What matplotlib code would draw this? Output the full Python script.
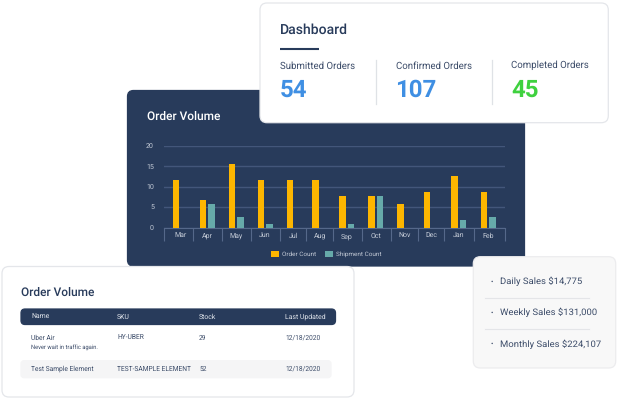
"""Order dashboard mock-up: overlapping cards around a monthly bar chart."""
import matplotlib
matplotlib.use("Agg")
import matplotlib.pyplot as plt
from matplotlib.patches import FancyBboxPatch
import numpy as np

W, H = 617, 400
NAVY = "#283b5b"
TEXT = "#3c4c69"

MONTHS = ["Mar", "Apr", "May", "Jun", "Jul", "Aug", "Sep", "Oct", "Nov", "Dec", "Jan", "Feb"]
ORDER_COUNT = [11.6, 6.7, 15.6, 11.6, 11.6, 11.6, 7.7, 7.7, 5.7, 8.7, 12.6, 8.7]
SHIPMENT_COUNT = [0, 5.7, 2.7, 0.8, 0, 0, 0.8, 7.7, 0, 0, 1.8, 2.7]
Y_TICKS = [0, 5, 10, 15, 20]

KPI_LABELS = ["Submitted Orders", "Confirmed Orders", "Completed Orders"]
KPI_VALUES = ["54", "107", "45"]
KPI_COLORS = ["#3f8fe3", "#3f8fe3", "#3fd13f"]

TABLE_HEAD = ["Name", "SKU", "Stock", "Last Updated"]
TABLE_ROW1 = ["Uber Air", "HY-UBER", "29", "12/18/2020"]
TABLE_ROW2 = ["Test Sample Element", "TEST-SAMPLE ELEMENT", "52", "12/18/2020"]
SALES = ["Daily Sales $14,775", "Weekly Sales $131,000", "Monthly Sales $224,107"]

# the month slots in the reference are not evenly wide, pixel x of the slot edges
SLOT_EDGES = [163.7, 193, 221.7, 250.7, 279.7, 305.7, 332.7, 361.7, 390.7, 417.7, 444.3, 473.7, 505]
LABEL_X = [180.3, 207.3, 236.3, 265, 294, 319.7, 346.7, 375.7, 404.7, 431.3, 458.7, 488]
PLOT_TOP, PLOT_BOTTOM = 145.7, 227.7

plt.rcParams["font.family"] = ["Roboto", "DejaVu Sans"]
plt.rcParams["text.hinting"] = "no_hinting"


def px(size):
    return size * 0.72


def card(ax, x0, y0, x1, y1, fc="white", ec="#e4e6ea", r=7, z=3):
    ax.add_patch(FancyBboxPatch((x0 + r, y0 + r), x1 - x0 - 2 * r, y1 - y0 - 2 * r,
                                boxstyle=f"round,pad={r},rounding_size={r}",
                                fc=fc, ec=ec, lw=0.9, zorder=z))


def label(ax, x, y, s, size=9.5, color=TEXT, weight="normal", ha="left", z=5):
    ax.text(x, y, s, fontsize=px(size), color=color, fontweight=weight,
            ha=ha, va="center", zorder=z)


fig = plt.figure(figsize=(W / 100, H / 100), dpi=100, facecolor="white")
bg = fig.add_axes([0, 0, 1, 1])
bg.set_xlim(0, W)
bg.set_ylim(H, 0)
bg.axis("off")

# dark panel behind everything
card(bg, 127.5, 90.5, 524.5, 266, fc=NAVY, ec=NAVY, r=6, z=1)
label(bg, 147, 116.5, "Order Volume", size=11.9, color="white", weight="medium", z=2)

# chart inside the dark panel
ax = fig.add_axes([SLOT_EDGES[0] / W, 1 - PLOT_BOTTOM / H,
                   (SLOT_EDGES[-1] - SLOT_EDGES[0]) / W, (PLOT_BOTTOM - PLOT_TOP) / H],
                  facecolor="none", zorder=2)
lx = np.array(LABEL_X)
ax.bar(lx - 4.2, ORDER_COUNT, width=6.6, color="#fdb600", label="Order Count", zorder=3)
ax.bar(lx + 4.3, SHIPMENT_COUNT, width=6.6, color="#66aaaa", label="Shipment Count", zorder=3)
ax.set_xlim(SLOT_EDGES[0], SLOT_EDGES[-1])
ax.set_ylim(0, 20)
ax.set_yticks(Y_TICKS)
ax.set_xticks(SLOT_EDGES)
ax.set_xticklabels([])
ax.tick_params(axis="x", length=9, width=0.8, color="#55688a")
ax.tick_params(axis="y", length=0, pad=7, labelsize=px(7), labelcolor="#c3cad6")
ax.grid(axis="y", color="#43567a", linewidth=1, zorder=1)
for name, spine in ax.spines.items():
    spine.set_visible(name == "bottom")
    spine.set_color("#55688a")
for x, m in zip(LABEL_X, MONTHS):
    ax.annotate(m, (x, 0), xytext=(0, -6.3), textcoords="offset points", annotation_clip=False,
                fontsize=px(7), color="#c3cad6", ha="center", va="center")
ax.legend(loc="center", bbox_to_anchor=(326.5 / W, 1 - 254 / H), bbox_transform=fig.transFigure,
          ncol=2, frameon=False, fontsize=px(6.4), labelcolor="#c3cad6",
          handlelength=1.25, handleheight=1.25, handletextpad=0.45, columnspacing=1.35)

# dashboard card
top = fig.add_axes([0, 0, 1, 1], facecolor="none", zorder=3)
top.set_xlim(0, W)
top.set_ylim(H, 0)
top.axis("off")
card(top, 260, 3, 608.3, 122.7)
label(top, 279.5, 30, "Dashboard", size=14, color=NAVY, weight="medium")
top.plot([279.5, 318.5], [48.7, 48.7], color=NAVY, lw=1.5, solid_capstyle="butt", zorder=5)
for x, s, v, c in zip([279.5, 395.5, 511], KPI_LABELS, KPI_VALUES, KPI_COLORS):
    label(top, x, 65.7, s, size=9.6)
    label(top, x, 90, v, size=24, color=c, weight="bold")
for x in [375.5, 491.5]:
    top.plot([x, x], [60, 104], color="#dfe2e6", lw=0.9, zorder=5)

# table card
card(top, 2, 266.5, 354, 397)
label(top, 21, 292.5, "Order Volume", size=11.9, color=NAVY, weight="medium")
card(top, 21, 309, 335.5, 324.5, fc=NAVY, ec=NAVY, r=4, z=4)
card(top, 21, 360.7, 331, 377.7, fc="#f5f5f6", ec="#f5f5f6", r=3, z=4)
COL_X = [31, 117, 199, 285]
for x, a, b, c in zip(COL_X, TABLE_HEAD, TABLE_ROW1, TABLE_ROW2):
    label(top, x, 316.7, a, size=6.9, color="#dfe3ea")
    label(top, x, 337.7, b, size=6.6)
    label(top, x, 369, c, size=6.6)
label(top, 31, 347, "Never wait in traffic again.", size=5.8)

# sales card
card(top, 473.3, 256.7, 615.7, 368, fc="#f8f8f8", ec="#ececee")
for y, s in zip([281.7, 312.7, 344], SALES):
    label(top, 491.7, y, "•", size=7, ha="center")
    label(top, 500, y, s, size=9.5)
for y in [297.5, 328.5]:
    top.plot([485, 589], [y, y], color="#e4e5e8", lw=0.8, zorder=5)

fig.savefig("out.png", dpi=100)
